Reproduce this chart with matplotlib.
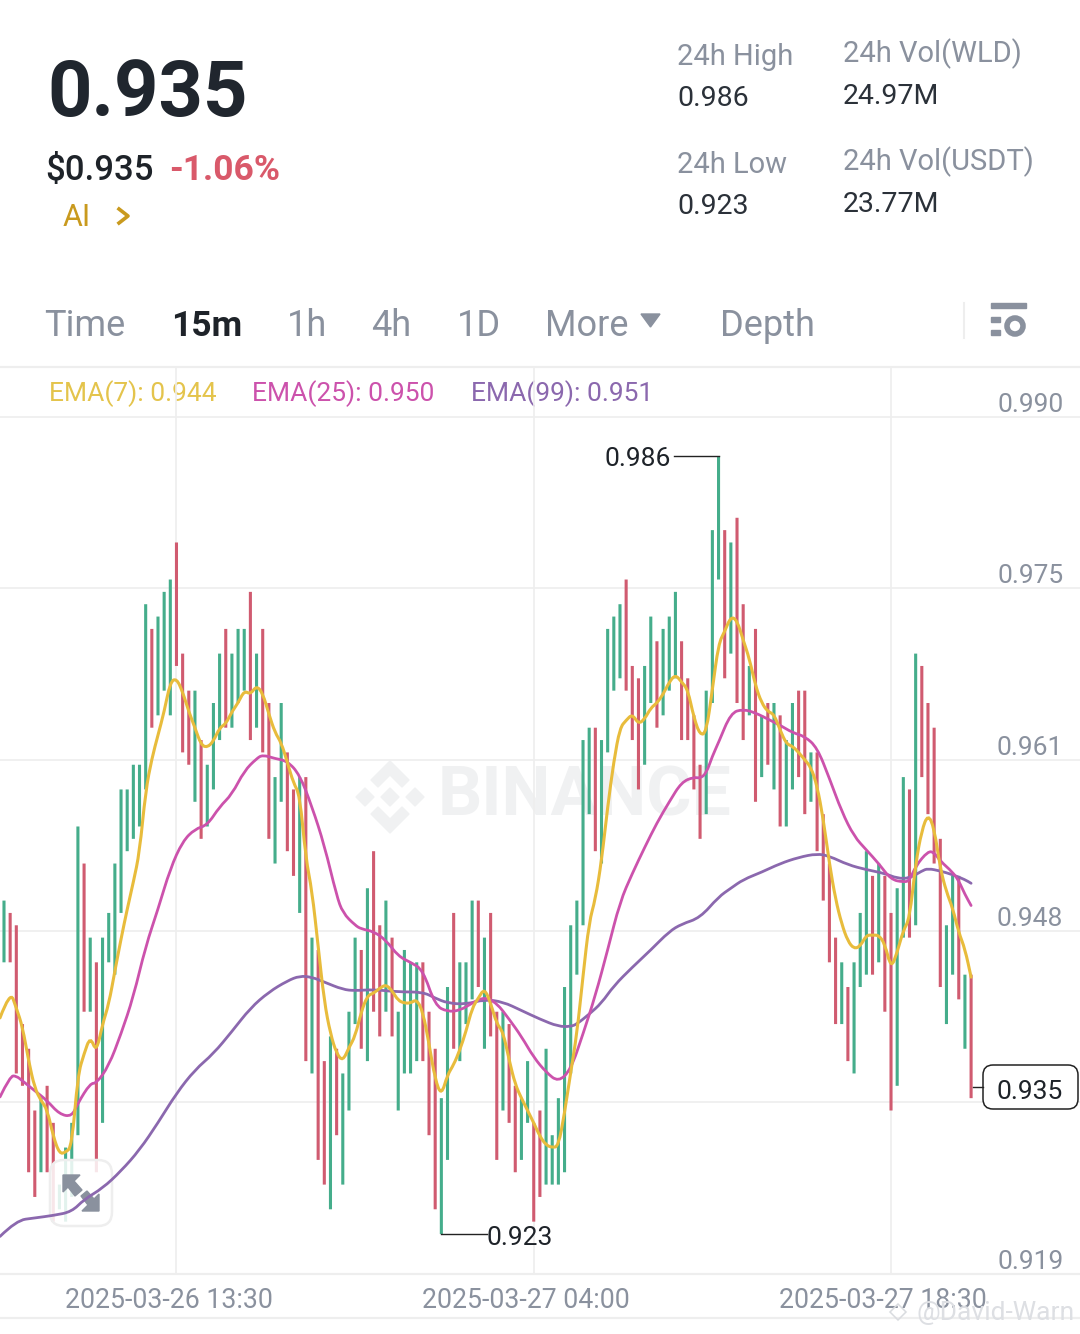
import matplotlib
matplotlib.use("Agg")
import matplotlib.pyplot as plt
from matplotlib.patches import FancyBboxPatch, PathPatch, Polygon, Rectangle, Circle
from matplotlib.path import Path
from matplotlib.transforms import ScaledTranslation

plt.rcParams["font.family"] = ["Roboto", "DejaVu Sans"]

# ---------- data ----------
# one entry per 15m bar, the picture only shows open/close bodies
bar_top = [
    .950, .949, .948, .940, .938, .933, .934, .935, .932, .927,
    .930, .932, .956, .953, .947, .945, .947, .949, .953, .959,
    .959, .961, .961, .974, .972, .973, .975, .976, .979, .970,
    .967, .967, .963, .961, .966, .970, .972, .970, .972, .972,
    .975, .970, .972, .966, .960, .966, .962, .959, .960, .960,
    .947, .946, .937, .939, .938, .936, .941, .947, .946, .951,
    .954, .948, .950, .947, .941, .946, .945, .945, .945, .941,
    .938, .934, .943, .949, .945, .945, .950, .950, .947, .949,
    .941, .941, .940, .935, .934, .937, .932, .933, .938, .931,
    .934, .943, .948, .950, .963, .964, .964, .963, .972, .973,
    .974, .976, .969, .968, .969, .973, .971, .972, .973, .975,
    .971, .968, .965, .961, .967, .980, .986, .980, .979, .981,
    .974, .969, .972, .965, .966, .966, .965, .963, .966, .967,
    .967, .962, .962, .957, .953, .947, .945, .943, .945, .949,
    .954, .952, .953, .952, .949, .951, .960, .959, .970, .969,
    .966, .964, .955, .948, .952, .952, .944, .944,
]
bar_bottom = [
    .945, .945, .936, .935, .928, .926, .928, .928, .924, .925,
    .924, .926, .931, .941, .941, .928, .932, .945, .944, .949,
    .954, .955, .956, .959, .964, .965, .967, .965, .969, .962,
    .961, .958, .955, .956, .959, .963, .964, .964, .966, .967,
    .963, .964, .962, .955, .953, .958, .954, .952, .949, .937,
    .936, .929, .927, .925, .931, .927, .933, .940, .938, .937,
    .941, .939, .941, .939, .933, .936, .936, .937, .937, .931,
    .925, .923, .929, .938, .937, .940, .942, .943, .938, .939,
    .929, .933, .932, .928, .929, .932, .924, .926, .927, .927,
    .927, .928, .936, .944, .948, .957, .954, .953, .962, .967,
    .968, .967, .963, .959, .961, .966, .964, .965, .967, .968,
    .963, .963, .959, .955, .957, .966, .976, .968, .970, .966,
    .963, .965, .958, .960, .961, .959, .956, .956, .959, .960,
    .957, .958, .954, .950, .945, .940, .940, .937, .936, .943,
    .944, .944, .945, .941, .933, .935, .947, .947, .948, .960,
    .957, .953, .943, .940, .944, .942, .938, .934,
]
bar_side = (
    "GRRRRRGRRG" "GGGRGRGGGG" "GGGGRGGGRR" "RGRGGGRGGG"
    "RGRRGGRRGR" "GRRGRGGGRG" "RRGRGGGGRR" "RGGRGGGRGR"
    "RGRRGGRRGG" "GGGGGGRGGG" "GRRRGGRGGG" "RRRRGGGRGR"
    "RGRGRGRGGR" "RGRRRRGRGG" "GRGRRGGRGR" "RRRGGRGR"
)

ema7_x = [-0.65, 1, 2, 3, 4, 5, 6, 7, 8, 9, 10, 11, 12, 13, 14, 15, 16, 17, 18, 19,
          20, 21, 22, 23, 24, 25, 26, 27, 28, 29, 30, 31, 32, 33, 34, 35, 36, 37, 38, 39,
          40, 41, 42, 43, 44, 45, 46, 47, 48, 49, 50, 51, 52, 53, 54, 55, 56, 57, 58, 59,
          60, 61, 62, 63, 64, 65, 66, 67, 68, 69, 70, 71, 72, 73, 74, 75, 76, 77, 78, 79,
          80, 81, 82, 83, 84, 85, 86, 87, 88, 89, 90, 91, 92, 93, 94, 95, 96, 97, 98, 99,
          100, 101, 102, 103, 104, 105, 106, 107, 108, 109, 110, 111, 112, 113, 114, 115, 116, 117, 118, 119,
          120, 121, 122, 123, 124, 125, 126, 127, 128, 129, 130, 131, 132, 133, 134, 135, 136, 137, 138, 139,
          140, 141, 142, 143, 144, 145, 146, 147, 148, 149, 150, 151, 152, 153, 154, 155, 156, 157]
ema7 = [.9405, .9427, .9413, .9398, .9370, .9348, .9338, .9331, .9309, .9295, .9296, .9301, .9359, .9376, .9390, .9377, .9400, .9416, .9443, .9469,
        .9493, .9515, .9539, .9589, .9615, .9634, .9653, .9677, .9680, .9669, .9653, .9640, .9626, .9624, .9629, .9640, .9643, .9653, .9660, .9670,
        .9667, .9674, .9668, .9651, .9636, .9628, .9612, .9595, .9586, .9534, .9508, .9463, .9418, .9392, .9376, .9370, .9381, .9390, .9410, .9423,
        .9425, .9429, .9432, .9427, .9419, .9417, .9417, .9420, .9410, .9384, .9355, .9342, .9359, .9367, .9379, .9394, .9413, .9421, .9429, .9417,
        .9400, .9394, .9371, .9351, .9340, .9330, .9320, .9309, .9302, .9300, .9301, .9328, .9361, .9392, .9439, .9483, .9501, .9532, .9576, .9613,
        .9640, .9646, .9651, .9643, .9647, .9656, .9660, .9667, .9677, .9683, .9677, .9671, .9648, .9634, .9636, .9671, .9708, .9718, .9730, .9727,
        .9711, .9696, .9674, .9660, .9653, .9651, .9638, .9627, .9625, .9620, .9614, .9608, .9593, .9566, .9530, .9501, .9481, .9467, .9461, .9463,
        .9472, .9472, .9472, .9465, .9445, .9458, .9476, .9485, .9530, .9557, .9570, .9559, .9526, .9507, .9494, .9474, .9461, .9438]

ema25_x = [-0.65, 1, 2, 3, 5, 7, 9, 11, 12, 14, 15, 17, 19, 21, 23, 25, 27, 29, 31, 33,
           35, 37, 39, 41, 42, 44, 46, 48, 50, 52, 54, 55, 57, 58, 60, 62, 64, 66, 68, 70,
           72, 74, 76, 78, 80, 82, 84, 86, 88, 90, 92, 94, 96, 98, 100, 102, 104, 106, 108, 110,
           112, 113, 114, 115, 116, 118, 120, 122, 124, 126, 128, 130, 132, 134, 136, 138, 140, 142, 144, 146,
           147, 148, 150, 151, 152, 154, 155, 156, 157]
ema25 = [.9341, .9358, .9358, .9354, .9346, .9338, .9327, .9325, .9336, .9352, .9352, .9366, .9392, .9422, .9463, .9493, .9526, .9548, .9558, .9561,
         .9576, .9586, .9605, .9615, .9618, .9615, .9613, .9602, .9576, .9545, .9504, .9490, .9480, .9477, .9475, .9468, .9455, .9450, .9444, .9415,
         .9410, .9411, .9417, .9422, .9417, .9404, .9390, .9373, .9361, .9353, .9363, .9392, .9423, .9460, .9499, .9522, .9543, .9563, .9580, .9596,
         .9600, .9599, .9603, .9617, .9628, .9652, .9655, .9652, .9647, .9642, .9636, .9633, .9624, .9599, .9572, .9552, .9541, .9530, .9517, .9515,
         .9516, .9528, .9540, .9539, .9532, .9523, .9516, .9505, .9496]

ema99_x = [-0.65, 2, 5, 8, 11, 13, 16, 19, 22, 25, 28, 31, 34, 37, 40, 43, 46, 48, 50, 52,
           55, 57, 60, 64, 68, 70, 72, 75, 78, 81, 84, 87, 90, 92, 93, 95, 97, 99, 102, 105,
           108, 110, 113, 116, 118, 120, 123, 126, 129, 132, 134, 137, 140, 143, 145, 147, 149, 150, 152, 154,
           156, 157]
ema99 = [.9228, .9241, .9243, .9245, .9248, .9258, .9267, .9281, .9298, .9320, .9344, .9363, .9376, .9394, .9413, .9426, .9435, .9439, .9438, .9434,
         .9428, .9427, .9428, .9426, .9426, .9421, .9417, .9416, .9420, .9418, .9411, .9404, .9398, .9398, .9400, .9408, .9417, .9431, .9446, .9460,
         .9475, .9481, .9486, .9503, .9510, .9517, .9523, .9530, .9535, .9538, .9536, .9529, .9525, .9522, .9518, .9518, .9524, .9526, .9524, .9521,
         .9517, .9514]

grid_prices = [.98916, .97532, .96139, .94754, .93369]
# the 0.935 grid label is hidden behind the last price tag in the app
price_labels = ["0.990", "0.975", "0.961", "0.948", "0.919"]
label_prices = [.98916, .97532, .96139, .94754, .91976]
date_ticks = [28, 86, 144]
date_labels = ["2025-03-26 13:30", "2025-03-27 04:00", "2025-03-27 18:30"]

high_idx, high_price = 116, .986
low_idx, low_price = 71, .923

# ---------- colours ----------
GREEN = "#45AD8B"
RED = "#D05B70"
YELLOW = "#E8BC3C"
MAGENTA = "#CC52AC"
PURPLE = "#8B68AE"
GREY = "#8A919E"
DARK = "#1E2329"
LINE = "#EEEEEE"

W, H = 1080, 1334
fig = plt.figure(figsize=(W / 100, H / 100), dpi=100, facecolor="white")

# ui layer works in picture pixels, used for the app chrome around the chart
ui = fig.add_axes([0, 0, 1, 1], zorder=0)
ui.set_xlim(0, W)
ui.set_ylim(H, 0)
ui.axis("off")


def label(x, y, s, size, color=DARK, ha="left", weight="normal", **kw):
    ui.text(x, y, s, fontsize=size, color=color, ha=ha, va="center", fontweight=weight, **kw)


def smooth_line(axes, xs, ys, color, lw, zorder):
    # quadratic curve through the midpoints, keeps the EMA lines from looking angular
    verts = [(xs[0], ys[0])]
    codes = [Path.MOVETO]
    for i in range(1, len(xs) - 1):
        verts.append((xs[i], ys[i]))
        verts.append(((xs[i] + xs[i + 1]) / 2, (ys[i] + ys[i + 1]) / 2))
        codes += [Path.CURVE3, Path.CURVE3]
    verts.append((xs[-1], ys[-1]))
    codes.append(Path.LINETO)
    axes.add_patch(PathPatch(Path(verts, codes), fill=False, ec=color, lw=lw, zorder=zorder, capstyle="round"))


# ---------- header ----------
label(47, 95, "0.935", 56, "#20262E", weight="bold")
label(45, 170, "$0.935", 25, weight="medium")
label(169, 170, "-1.06%", 25.5, "#D9596A", weight="bold")
label(63, 217, "AI", 22, "#C99A1E")
ui.plot([119, 128, 119], [209, 216, 223], color="#C99A1E", lw=2.6)

label(677, 57, "24h High", 21, GREY)
label(677, 99, "0.986", 20.5, "#2B3139")
label(677, 165, "24h Low", 21, GREY)
label(677, 207, "0.923", 20.5, "#2B3139")
label(843, 54, "24h Vol(WLD)", 21, GREY)
label(843, 96, "24.97M", 20.5, "#2B3139")
label(843, 162, "24h Vol(USDT)", 21, GREY)
label(843, 204, "23.77M", 20.5, "#2B3139")

# ---------- tabs ----------
for tab_x, tab in zip([44, 287, 371, 457, 545, 720], ["Time", "1h", "4h", "1D", "More", "Depth"]):
    label(tab_x, 326, tab, 26, GREY)
label(171, 326, "15m", 25.5, DARK, weight="bold")
ui.add_patch(Polygon([(641, 314), (660, 314), (650.5, 327)], color=GREY))
ui.plot([964, 964], [303, 338], color=LINE, lw=1.5)
ui.add_patch(Rectangle((991, 303), 35, 5, color=GREY))
ui.add_patch(Rectangle((991, 317), 9, 5, color=GREY))
ui.add_patch(Rectangle((991, 330), 9, 5, color=GREY))
ui.add_patch(Circle((1015, 326), 8, fill=False, ec=GREY, lw=4))

# ---------- legend and chrome lines ----------
label(49, 394, "EMA(7): 0.944", 19, "#E4C44C")
label(252, 394, "EMA(25): 0.950", 19, MAGENTA)
label(471, 394, "EMA(99): 0.951", 19, PURPLE)
ui.plot([0, W], [367, 367], color=LINE, lw=1.6)
ui.plot([0, W], [1318, 1318], color=LINE, lw=1.6)

# ---------- background watermark ----------
MARK = "#F0F1F2"
ui.add_patch(Polygon([(390, 788), (399, 797), (390, 806), (381, 797)], color=MARK))
ui.add_patch(Polygon([(365, 788), (374, 797), (365, 806), (356, 797)], color=MARK))
ui.add_patch(Polygon([(415, 788), (424, 797), (415, 806), (406, 797)], color=MARK))
ui.add_patch(Polygon([(390, 761), (409, 780), (402, 787), (390, 775), (378, 787), (371, 780)], color=MARK))
ui.add_patch(Polygon([(390, 833), (409, 814), (402, 807), (390, 819), (378, 807), (371, 814)], color=MARK))
ui.text(584, 797, "BINANCE", fontsize=50, color=MARK, ha="center", va="center", fontweight="bold")

# ---------- chart ----------
ax = fig.add_axes([0, (H - 1274) / H, 1, (1274 - 367) / H], zorder=1)
ax.patch.set_alpha(0)
ax.set_xlim(-0.649, 174.68)
ax.set_ylim(.91976, .99321)
for spine in ["top", "left", "right"]:
    ax.spines[spine].set_visible(False)
ax.spines["bottom"].set_color(LINE)
ax.spines["bottom"].set_linewidth(1.6)
ax.set_yticks(grid_prices)
ax.set_xticks(date_ticks)
ax.set_xticklabels(date_labels, fontsize=19.2, color=GREY)
ax.tick_params(axis="both", length=0, labelleft=False)
ax.tick_params(axis="x", pad=9)
# date labels sit a little left of their grid line
for tick in ax.get_xticklabels():
    tick.set_transform(tick.get_transform() + ScaledTranslation(-8 / 100, 0, fig.dpi_scale_trans))
ax.grid(True, color=LINE, lw=1.2)
ax.set_axisbelow(True)

xs = list(range(len(bar_top)))
heights = [t - b for t, b in zip(bar_top, bar_bottom)]
colors = [GREEN if c == "G" else RED for c in bar_side]
bars = ax.bar(xs, heights, bottom=bar_bottom, width=0.5, color=colors, zorder=2)
for bar in bars:
    bar.set_snap(False)

smooth_line(ax, ema99_x, ema99, PURPLE, 2.0, 3)
smooth_line(ax, ema25_x, ema25, MAGENTA, 2.0, 4)
smooth_line(ax, ema7_x, ema7, YELLOW, 2.2, 5)

# price labels float above their grid lines
for price, text in zip(label_prices, price_labels):
    ax.annotate(text, (1, price), xycoords=ax.get_yaxis_transform(), xytext=(-12, 0), textcoords="offset points",
                ha="right", va="bottom", fontsize=19, color=GREY, annotation_clip=False)

# high / low leaders
ax.plot([high_idx - 7.2, high_idx], [high_price, high_price], color="#222222", lw=1, zorder=3)
ax.annotate("0.986", (high_idx - 7.7, high_price), xytext=(0, -2), textcoords="offset points",
            fontsize=19, color=DARK, ha="right", va="center")
ax.plot([low_idx, low_idx + 7.4], [low_price, low_price], color="#222222", lw=1, zorder=3)
ax.annotate("0.923", (low_idx + 7.4, low_price), xytext=(0, -3), textcoords="offset points",
            fontsize=19, color=DARK, ha="left", va="center")

# ---------- things on top of the chart ----------
top = fig.add_axes([0, 0, 1, 1], zorder=2)
top.set_xlim(0, W)
top.set_ylim(H, 0)
top.axis("off")
top.patch.set_alpha(0)

# expand button fades the bars under it, the purple EMA runs over it
ax.add_patch(FancyBboxPatch((50, 1160), 62, 66, boxstyle="round,pad=0,rounding_size=14", transform=top.transData,
                            fc=(1, 1, 1, 0.85), ec="#EEEEEE", lw=1.8, zorder=2.5, clip_on=False))
ax.add_patch(Polygon([(63, 1175), (80, 1175), (74, 1181), (82, 1190), (75, 1196), (68, 1187), (63, 1192)],
                     color=GREY, transform=top.transData, zorder=2.6))
ax.add_patch(Polygon([(99, 1211), (82, 1211), (88, 1205), (81, 1196), (87, 1191), (94, 1199), (99, 1194)],
                     color=GREY, transform=top.transData, zorder=2.6))

# last price tag
top.plot([973, 983], [1087, 1087], color="#222222", lw=1)
top.add_patch(FancyBboxPatch((983, 1065), 95, 44, boxstyle="round,pad=0,rounding_size=10",
                             fc="white", ec="#222222", lw=1.1))
top.text(1030, 1092, "0.935", fontsize=19, color=DARK, ha="center", va="center")

# corner watermark
top.add_patch(Polygon([(898, 1304), (906, 1312), (898, 1320), (890, 1312)], fill=False, ec="#D9DBDF", lw=1.1))
top.text(916, 1313, "@David-Warn", fontsize=19, color="#DDDFE3", ha="left", va="center")

fig.savefig("out.png", dpi=100, facecolor="white")
